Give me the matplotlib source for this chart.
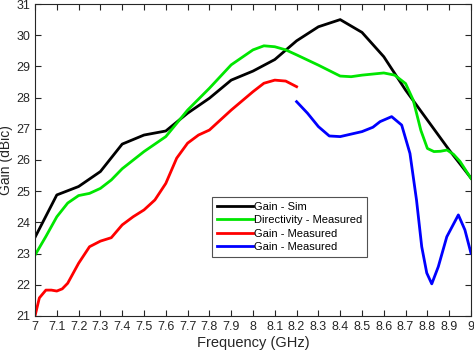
import matplotlib
matplotlib.use("Agg")
import matplotlib.pyplot as plt

plt.rcParams["font.family"] = ["Liberation Sans", "DejaVu Sans"]

# Gain - Sim (piecewise, 0.1 GHz steps)
f_sim = [7.0, 7.1, 7.2, 7.3, 7.4, 7.5, 7.6, 7.7, 7.8, 7.9, 8.0,
         8.1, 8.2, 8.3, 8.4, 8.5, 8.6, 8.7, 8.8, 8.9, 9.0]
g_sim = [23.52, 24.88, 25.15, 25.63, 26.51, 26.80, 26.93, 27.50, 27.98, 28.56, 28.85,
         29.22, 29.82, 30.27, 30.50, 30.09, 29.31, 28.24, 27.28, 26.32, 25.42]

# Directivity - Measured
f_dir = [7.0, 7.05, 7.1, 7.15, 7.2, 7.25, 7.3, 7.35, 7.4, 7.5, 7.6, 7.7, 7.8,
         7.9, 8.0, 8.05, 8.1, 8.15, 8.2, 8.3, 8.4, 8.45, 8.5, 8.6, 8.65,
         8.7, 8.735, 8.77, 8.8, 8.83, 8.86, 8.89, 8.92, 8.95, 9.0]
d_dir = [22.95, 23.55, 24.18, 24.62, 24.86, 24.93, 25.09, 25.36, 25.72, 26.27, 26.75, 27.60, 28.30,
         29.05, 29.53, 29.66, 29.63, 29.53, 29.37, 29.04, 28.69, 28.67, 28.72, 28.79, 28.72,
         28.45, 27.92, 26.95, 26.37, 26.27, 26.28, 26.32, 26.18, 25.95, 25.41]

# Gain - Measured (low band)
f_meas1 = [7.0, 7.02, 7.05, 7.075, 7.1, 7.125, 7.15, 7.2, 7.25, 7.3, 7.35, 7.4, 7.45,
           7.5, 7.55, 7.6, 7.65, 7.7, 7.75, 7.8, 7.85, 7.9, 8.0, 8.05, 8.1, 8.15, 8.2]
g_meas1 = [21.0, 21.58, 21.83, 21.83, 21.80, 21.87, 22.05, 22.69, 23.22, 23.40, 23.51, 23.92, 24.18,
           24.40, 24.72, 25.25, 26.06, 26.54, 26.80, 26.96, 27.28, 27.60, 28.19, 28.46, 28.56, 28.53, 28.35]

# Gain - Measured (high band)
f_meas2 = [8.2, 8.25, 8.3, 8.35, 8.4, 8.45, 8.5, 8.55, 8.583, 8.636, 8.682, 8.72,
           8.75, 8.774, 8.797, 8.82, 8.85, 8.889, 8.942, 8.972, 9.0]
g_meas2 = [27.87, 27.50, 27.07, 26.77, 26.75, 26.83, 26.91, 27.05, 27.23, 27.39, 27.12, 26.21,
           24.72, 23.22, 22.38, 22.03, 22.58, 23.54, 24.24, 23.76, 23.01]

fig = plt.figure(figsize=(4.74, 3.53), dpi=100)
ax = fig.add_axes([35 / 474, 1 - 316 / 353, 436 / 474, 312 / 353])

ax.plot(f_sim, g_sim, color="black", lw=2, label="Gain - Sim")
ax.plot(f_dir, d_dir, color="#00e600", lw=2, label="Directivity - Measured")
ax.plot(f_meas1, g_meas1, color="#ff0000", lw=2, label="Gain - Measured")
ax.plot(f_meas2, g_meas2, color="#0000ff", lw=2, label="Gain - Measured")

ax.set_xlim(7, 9)
ax.set_ylim(21, 31)
ax.set_xticks([7 + 0.1 * i for i in range(21)])
ax.set_xticklabels(["7", "7.1", "7.2", "7.3", "7.4", "7.5", "7.6", "7.7", "7.8", "7.9", "8",
                    "8.1", "8.2", "8.3", "8.4", "8.5", "8.6", "8.7", "8.8", "8.9", "9"])
ax.set_yticks(range(21, 32))
ax.tick_params(direction="in", top=True, right=True, labelsize=9, colors="#262626",
               length=4, width=0.8)
for s in ax.spines.values():
    s.set_color("#262626")
    s.set_linewidth(0.8)

ax.set_xlabel("Frequency (GHz)", fontsize=10.5, color="#262626", labelpad=2)
ax.set_ylabel("Gain (dBic)", fontsize=10, color="#262626", labelpad=2)

leg = ax.legend(loc="upper left", bbox_to_anchor=((212 - 35) / 436, (316 - 197) / 312),
                fontsize=8, frameon=True, fancybox=False, handlelength=3.2,
                handletextpad=0.15, borderpad=0.45, labelspacing=0.3, borderaxespad=0)
leg.get_frame().set_edgecolor("#262626")
leg.get_frame().set_linewidth(0.8)

fig.savefig("out.png", dpi=100)
